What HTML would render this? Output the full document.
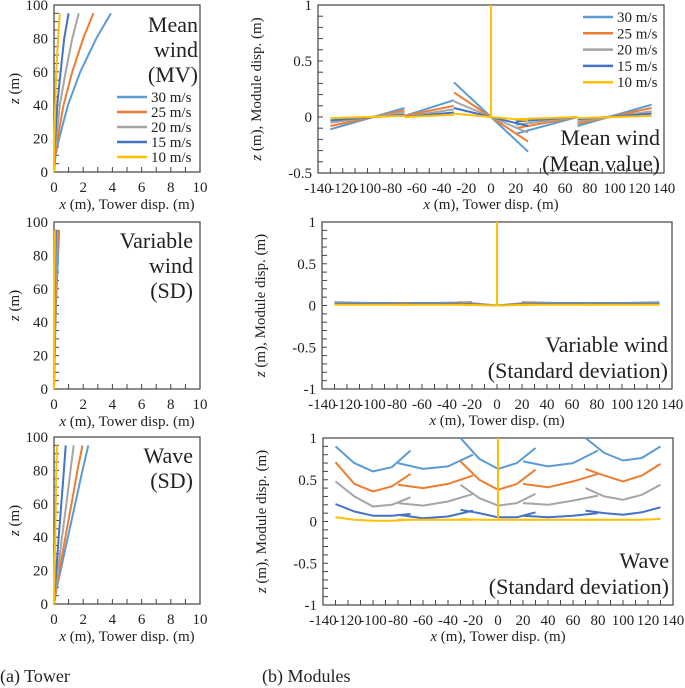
<!DOCTYPE html>
<html><head><meta charset="utf-8">
<style>
html,body{margin:0;padding:0;background:#fff;}
svg{display:block;font-family:"Liberation Serif",serif;}
</style></head>
<body>
<svg id="fig" width="685" height="688" viewBox="0 0 685 688" xmlns="http://www.w3.org/2000/svg">
<text x="0" y="682" font-size="18" fill="#222">(a) Tower</text>
<text x="262" y="682" font-size="18" fill="#222">(b) Modules</text>
</svg>
<script>
const seriesNames = ["30 m/s","25 m/s","20 m/s","15 m/s","10 m/s"];
const seriesColors = ["#5B9BD5","#ED7D31","#A5A5A5","#4472C4","#FFC000"];

// Tower panels: heights and displacements
const towerZ = [0,10,20,40,60,80,95];
const towerMean = [
 [0,0.1,0.35,0.95,1.8,2.9,3.9],
 [0,0.08,0.25,0.65,1.25,2.0,2.7],
 [0,0.05,0.15,0.4,0.8,1.25,1.7],
 [0,0.03,0.08,0.22,0.45,0.7,1.0],
 [0,0.01,0.03,0.08,0.15,0.28,0.4]
];
const towerVar = [
 [0,0.02,0.05,0.1,0.18,0.28,0.35],
 [0,0.02,0.04,0.08,0.14,0.22,0.28],
 [0,0.01,0.03,0.06,0.1,0.16,0.2],
 [0,0.01,0.02,0.04,0.06,0.09,0.12],
 [0,0.01,0.01,0.02,0.03,0.05,0.06]
];
const towerWave = [
 [0,0.2,0.45,0.95,1.45,1.95,2.35],
 [0,0.17,0.36,0.78,1.2,1.6,1.95],
 [0,0.12,0.26,0.55,0.85,1.13,1.35],
 [0,0.07,0.15,0.32,0.5,0.68,0.8],
 [0,0.02,0.04,0.08,0.12,0.16,0.2]
];

// Module panels: segment x positions and per-series values
const meanSegX = [[-130,-70],[-70,-30],[-30,0],[0,30],[20,70],[70,130]];
const meanVals = [
 [[-0.11,0.08],[0.01,0.15],[0.31,0],[0,-0.31],[-0.15,0],[-0.08,0.11]],
 [[-0.08,0.06],[0.01,0.1],[0.22,0],[0,-0.22],[-0.1,0],[-0.06,0.08]],
 [[-0.05,0.04],[0.0,0.07],[0.14,0],[0,-0.14],[-0.07,0],[-0.04,0.05]],
 [[-0.03,0.02],[0.0,0.04],[0.08,0],[0,-0.08],[-0.04,0],[-0.02,0.03]],
 [[-0.01,0.01],[0.0,0.02],[0.03,0],[0,-0.03],[-0.02,0],[-0.01,0.01]]
];
const varSegX = [[-130,-100,-70],[-80,-50,-20],[-30,0,30],[20,50,80],[70,100,130]];
const varVals = [
 [[0.04,0.03,0.03],[0.03,0.03,0.04],[0.04,0.0,0.04],[0.04,0.03,0.03],[0.03,0.03,0.04]],
 [[0.03,0.02,0.03],[0.02,0.02,0.04],[0.04,0.0,0.04],[0.04,0.02,0.02],[0.02,0.02,0.03]],
 [[0.03,0.02,0.02],[0.02,0.02,0.03],[0.03,0.0,0.03],[0.03,0.02,0.02],[0.02,0.02,0.03]],
 [[0.02,0.02,0.02],[0.02,0.02,0.02],[0.02,0.0,0.02],[0.02,0.02,0.02],[0.02,0.02,0.02]],
 [[0.01,0.01,0.01],[0.01,0.01,0.01],[0.01,0.0,0.01],[0.01,0.01,0.01],[0.01,0.01,0.01]]
];
const waveSegX = [[-130,-115,-100,-85,-70],[-80,-60,-40,-20],[-30,-15,0,15,30],[20,40,60,80],[70,85,100,115,130]];
const waveVals = [
 [[0.9,0.7,0.6,0.65,0.85],[0.7,0.63,0.66,0.8],[1.0,0.75,0.63,0.7,0.88],[0.72,0.66,0.7,0.85],[1.0,0.82,0.73,0.76,0.9]],
 [[0.71,0.45,0.36,0.42,0.57],[0.44,0.4,0.45,0.55],[0.72,0.5,0.38,0.45,0.62],[0.45,0.41,0.48,0.57],[0.63,0.55,0.48,0.55,0.69]],
 [[0.48,0.3,0.18,0.2,0.29],[0.22,0.19,0.24,0.33],[0.44,0.28,0.19,0.22,0.33],[0.22,0.2,0.25,0.31],[0.4,0.3,0.26,0.32,0.44]],
 [[0.21,0.12,0.07,0.07,0.09],[0.08,0.04,0.06,0.13],[0.14,0.1,0.05,0.05,0.11],[0.07,0.05,0.07,0.1],[0.13,0.1,0.08,0.11,0.17]],
 [[0.05,0.02,0.01,0.01,0.02],[0.02,0.02,0.02,0.02],[0.03,0.02,0.02,0.02,0.02],[0.02,0.02,0.02,0.02],[0.02,0.02,0.02,0.02,0.03]]
];
const towerXTicks = [0,2,4,6,8,10];
const towerYTicks = [0,20,40,60,80,100];
const modXTicks = [-140,-120,-100,-80,-60,-40,-20,0,20,40,60,80,100,120,140];
const modYTicks1 = [-0.5,0,0.5,1];
const modYTicks2 = [-1,-0.5,0,0.5,1];
const mastTop = [1,1,1];
const mastBottom = [0,0,0.03];

const NS="http://www.w3.org/2000/svg";
const svg=document.getElementById('fig');
function mk(tag,attrs,parent){const e=document.createElementNS(NS,tag);for(const k in attrs)e.setAttribute(k,attrs[k]);(parent||svg).appendChild(e);return e;}
function txt(x,y,s,size,anchor,parent){const t=mk('text',{x:x,y:y,'font-size':size,'text-anchor':anchor||'middle',fill:'#222'},parent);t.textContent=s;return t;}

function panel(name,L,R,T,B,xmin,xmax,ymin,ymax,xt,yt,xMinor,yMinor){
  const g=mk('g',{});
  
  
  const sx=v=>L+(v-xmin)/(xmax-xmin)*(R-L);
  const sy=v=>B-(v-ymin)/(ymax-ymin)*(B-T);
  const fr=mk('rect',{x:L,y:T,width:R-L,height:B-T,fill:'none',stroke:'#444','stroke-width':1.2},g);
  
  
  for(let v=xmin;v<=xmax+1e-9;v+=xMinor){mk('line',{x1:sx(v),x2:sx(v),y1:B,y2:B-5,stroke:'#444','stroke-width':1},g);}
  for(let v=ymin;v<=ymax+1e-9;v+=yMinor){mk('line',{x1:L,x2:L+5,y1:sy(v),y2:sy(v),stroke:'#444','stroke-width':1},g);}
  const xl=mk('g',{},g);
  
  
  xt.forEach(v=>txt(sx(v),B+20,String(v),15,'middle',xl));
  const yl=mk('g',{},g);
  
  
  yt.forEach(v=>txt(L-6,sy(v)+5,String(v),15,'end',yl));
  return {g,sx,sy};
}
function poly(p,xs,ys,color,name,w){
  const pts=xs.map((x,i)=>p.sx(x).toFixed(1)+','+p.sy(ys[i]).toFixed(1)).join(' ');
  const e=mk('polyline',{points:pts,fill:'none',stroke:color,'stroke-width':w||2,'stroke-linejoin':'round'},p.g);
  
  
}
function xTitle(cx,y,parent){
  const t=mk('text',{x:cx,y:y,'font-size':15,'text-anchor':'middle',fill:'#222'},parent);
  t.innerHTML='<tspan font-style="italic">x</tspan> (m), Tower disp. (m)';
  
  
}
function yTitle(x,cy,s,parent){
  const t=mk('text',{x:0,y:0,'font-size':15,'text-anchor':'middle',fill:'#222',transform:`translate(${x},${cy}) rotate(-90)`},parent);
  t.innerHTML='<tspan font-style="italic">z</tspan> '+s;
  
  
}
function label(lines,x,y0,dy,anchor,size,parent){
  const g=mk('g',{},parent);
  
  
  lines.forEach((s,i)=>txt(x,y0+i*dy,s,size,anchor,g));
}
function legend(x,y0,dy,parent){
  const g=mk('g',{},parent);
  
  
  seriesNames.forEach((n,i)=>{
    const e=mk('g',{},g);
    
    
    mk('line',{x1:x,x2:x+30,y1:y0+i*dy,y2:y0+i*dy,stroke:seriesColors[i],'stroke-width':2.5},e);
    txt(x+34,y0+i*dy+5,n,15,'start',e);
  });
}

// Tower panels
const towerPanels=[
 {name:'tower-mean-wind-panel',T:5,B:172,data:towerMean,lab:['Mean','wind','(MV)'],ly:32,lx:198,anchor:'end'},
 {name:'tower-variable-wind-panel',T:222,B:389,data:towerVar,lab:['Variable','wind','(SD)'],ly:248,lx:193,anchor:'end'},
 {name:'tower-wave-panel',T:437,B:604,data:towerWave,lab:['Wave','(SD)'],ly:463,lx:193,anchor:'end'}
];
towerPanels.forEach((tp,k)=>{
  const p=panel(tp.name,54,200,tp.T,tp.B,0,10,0,100,towerXTicks,towerYTicks,1,5);
  tp.data.forEach((d,i)=>poly(p,d,towerZ,seriesColors[i],'tower-line-'+seriesNames[i].replace(/\D/g,'')));
  xTitle(127,tp.B+37,p.g);
  yTitle(19,(tp.T+tp.B)/2,'(m)',p.g);
  label(tp.lab,tp.lx,tp.ly,25,tp.anchor,22,p.g);
  if(k===0) legend(117,97,15,p.g);
});

// Module panels
const modPanels=[
 {name:'module-mean-wind-panel',L:318,R:664,T:5,B:173,ymin:-0.5,yt:modYTicks1,segX:meanSegX,vals:meanVals,lab:['Mean wind','(Mean value)'],ly:145},
 {name:'module-variable-wind-panel',L:322,R:672,T:222,B:389,ymin:-1,yt:modYTicks2,segX:varSegX,vals:varVals,lab:['Variable wind','(Standard deviation)'],ly:352},
 {name:'module-wave-panel',L:323,R:673,T:438,B:605,ymin:-1,yt:modYTicks2,segX:waveSegX,vals:waveVals,lab:['Wave','(Standard deviation)'],ly:568}
];
modPanels.forEach((mp,k)=>{
  const p=panel(mp.name,mp.L,mp.R,mp.T,mp.B,-140,140,mp.ymin,1,modXTicks,mp.yt,10,0.1);
  mp.vals.forEach((sv,i)=>{
    sv.forEach((seg,j)=>poly(p,mp.segX[j],seg,seriesColors[i],'module-line-'+seriesNames[i].replace(/\D/g,'')));
  });
  poly(p,[0,0],[mastBottom[k],mastTop[k]],seriesColors[4],'mast-line',2);
  xTitle((mp.L+mp.R)/2,mp.B+36,p.g);
  yTitle(mp.L-57,(mp.T+mp.B)/2,'(m), Module disp. (m)',p.g);
  label(mp.lab,mp.R-4,mp.ly,26,'end',22,p.g);
  if(k===0) legend(583,17,16.3,p.g);
});
</script>
</body></html>
